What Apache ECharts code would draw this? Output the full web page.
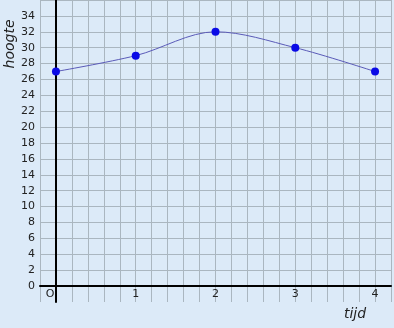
<!DOCTYPE html>
<html><head><meta charset="utf-8">
<script src="https://cdn.jsdelivr.net/npm/echarts@6/dist/echarts.min.js"></script>
<style>html,body{margin:0;padding:0;background:#dceaf8}#c{width:394px;height:328px}</style>
</head><body><div id="c"></div>
<script>
const tijd = [0, 1, 2, 3, 4];
const hoogte = [27, 29, 32, 30, 27];
const xTickLabels = ['O', '1', '2', '3', '4'];
const yTickStep = 2;

const gridColors = [];
for (let v = -2; v <= 36; v += 2) gridColors.push(v === -2 ? 'rgba(0,0,0,0)' : '#aab6c0');

const chart = echarts.init(document.getElementById('c'), null, {renderer: 'canvas'});
chart.setOption({
  backgroundColor: '#dceaf8',
  animation: false,
  grid: {left: 40, right: 2, top: -2, bottom: 26, containLabel: false},
  xAxis: {
    type: 'value', min: -0.2, max: 4.2, interval: 0.2,
    axisLine: {onZero: true, lineStyle: {color: '#000', width: 2}},
    axisTick: {show: false},
    splitLine: {show: true, lineStyle: {color: '#aab6c0', width: 1}},
    axisLabel: {
      margin: -13, color: '#222', fontSize: 11, fontFamily: 'DejaVu Sans',
      formatter: function (v) {
        const r = Math.round(v * 10) / 10;
        if (Math.abs(r - Math.round(r)) > 1e-6 || r < 0) return '';
        const i = Math.round(r);
        if (i === 0) return '{z|' + xTickLabels[0] + '}';
        return xTickLabels[i] || '';
      },
      rich: {z: {padding: [0, 12, 0, 0], fontSize: 11, color: '#222', fontFamily: 'DejaVu Sans'}}
    }
  },
  yAxis: {
    type: 'value', min: -2, max: 36, interval: yTickStep,
    axisLine: {onZero: true, lineStyle: {color: '#000', width: 2}},
    axisTick: {show: false},
    splitLine: {show: true, lineStyle: {color: gridColors, width: 1}},
    axisLabel: {
      margin: 5, color: '#222', fontSize: 11, fontFamily: 'DejaVu Sans',
      formatter: function (v) { return (v < 0 || v > 34) ? '' : String(v); }
    }
  },
  graphic: [
    {type: 'text', x: 10, y: 44, rotation: Math.PI / 2,
     style: {text: 'hoogte', font: 'italic 14px DejaVu Sans', fill: '#222', align: 'center', verticalAlign: 'middle'}},
    {type: 'text', x: 355, y: 314,
     style: {text: 'tijd', font: 'italic 14px DejaVu Sans', fill: '#222', align: 'center', verticalAlign: 'middle'}}
  ],
  series: [{
    type: 'line',
    data: tijd.map((t, i) => [t, hoogte[i]]),
    smooth: 0.33,
    symbol: 'circle', symbolSize: 8,
    itemStyle: {color: '#0a0ae6'},
    lineStyle: {color: '#5a5ab8', width: 1},
    z: 5
  }]
});
</script></body></html>
